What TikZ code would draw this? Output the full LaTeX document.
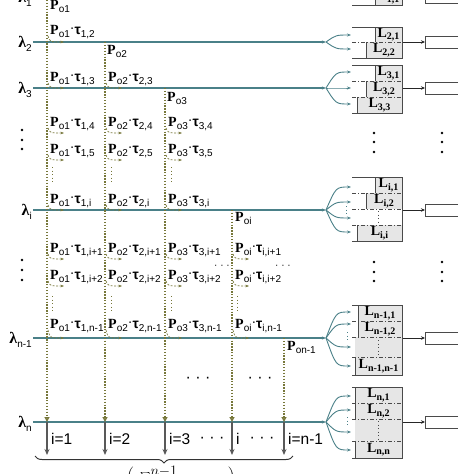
\documentclass[tikz,border=0pt]{standalone}
\usepackage{fontspec}
\setmainfont{Liberation Sans}
\newfontfamily\tnr{Liberation Serif}
\usetikzlibrary{arrows.meta,decorations.pathreplacing}
\definecolor{lamcol}{HTML}{4A8088}
\definecolor{dotcol}{HTML}{77773A}
\definecolor{boxfill}{HTML}{E6E6E6}
\definecolor{framecol}{HTML}{4A4A4A}
\newcommand{\sub}[1]{\raisebox{-0.4ex}{\fontsize{10}{10}\selectfont #1}}
\newcommand{\Pb}{{\tnr\bfseries P}}
\newcommand{\Lb}[1]{{\tnr\bfseries L\sub{#1}}}
\newcommand{\Pt}[2]{\Pb\sub{#1}\raisebox{0.3ex}{·}{\bfseries τ}\sub{#2}}

\begin{document}
\begin{tikzpicture}[x=1pt, y=-1pt,
    every node/.style={font=\fontsize{14}{16}\selectfont, inner sep=0pt},
    lam/.style={draw=lamcol, line width=1.2pt, -{Stealth[length=4pt,width=3pt]}},
    colline/.style={draw=dotcol, line width=1.3pt, dash pattern=on 1.3pt off 1.6pt, -{Triangle[open,length=5pt,width=5pt]}},
    tau/.style={draw=dotcol, dash pattern=on 2pt off 1.5pt, line width=0.7pt, -{Stealth[length=3.5pt]}},
    fan/.style={draw=lamcol, line width=0.9pt, -{Stealth[length=4pt,width=3pt]}},
    feed/.style={draw=black!85, line width=1pt, -{Stealth[length=4pt,width=3.5pt]}},
    drop/.style={draw=black!65, line width=1.7pt, -{Stealth[length=6pt,width=5pt]}},
    boxline/.style={draw=framecol, line width=1pt},
    rowsep/.style={draw=framecol, line width=0.7pt, dash pattern=on 4pt off 2pt on 1pt off 2pt},
    vdots/.style={draw=dotcol, line width=1pt, dash pattern=on 1pt off 2.5pt},
    plab/.style={anchor=west},
    lamlab/.style={anchor=east, font=\fontsize{16}{18}\selectfont},
    dotsmall/.style={font=\fontsize{10}{10}\selectfont},
    dotbig/.style={font=\fontsize{16}{16}\selectfont},
    ilab/.style={anchor=west, font=\fontsize{15.5}{17}\selectfont}
  ]
  \useasboundingbox (0,0) rectangle (474,474);
  \clip (0,0) rectangle (474,474);

  % Lambda lines and outputs
  \foreach \n/\y/\t in {1/-3/1, 2/42/2, 3/88/3, i/210/i, m/338/n-1, n/422/n} {
    \coordinate (w\n) at (33,\y);
    \coordinate (f\n) at (326,\y);
    \node[lamlab] (lab\n) at (32,\y+2) {{\tnr\bfseries λ}\sub{\t}};
    \draw[lam] (w\n) -- (f\n);
    \coordinate (bo\n) at (402,\y);
    \coordinate (ri\n) at (425,\y);
    \draw[feed] (bo\n) -- (ri\n);
    \draw[boxline] (458,\y-6) -- (425,\y-6) -- (425,\y+6) -- (458,\y+6);
  }

  % Fans into the boxes
  \foreach \n/\ends in {1/{-3}, 2/{35,49}, 3/{72,88,104}, i/{187,202,218,232}, m/{312,324,347,366}, n/{396,410,432,450}} {
    \foreach \e [count=\k] in \ends {
      \coordinate (fe\n\k) at (351,\e);
      \draw[fan] (f\n) .. controls (336,\e) .. (fe\n\k);
    }
  }
  \draw[vdots, draw=lamcol] (346,206) -- (346,214);
  \draw[vdots, draw=lamcol] (347,332) -- (347,340);
  \draw[vdots, draw=lamcol] (347,417) -- (347,426);

  % Boxes: cells
  \fill[boxfill] (355,337) rectangle (402,357);
  \fill[boxfill] (355,419) rectangle (402,441);
  \foreach \b/\t/\u/\lx/\lab in {
      1/-11/5/375/{1,1},
      2/27/42/375/{2,1}, 2/42/58/366/{2,2},
      3/65/81/375/{3,1}, 3/81/97/366/{3,2}, 3/97/113/357/{3,3},
      i/177/193/375/{i,1}, i/193/209/366/{i,2}, i/225/241/357/{i,i},
      m/305/321/358/{n-1,1}, m/321/337/358/{n-1,2}, m/357/375/355/{n-1,n-1},
      n/387/403/355/{n,1}, n/403/419/355/{n,2}, n/441/458/355/{n,n}} {
    \fill[boxfill] (\lx,\t) rectangle (402,\u);
    \draw[boxline, line width=0.8pt] (\lx,\t) -- (\lx,\u);
    \node (L\b\t) at ({(\lx+402)/2},{(\t+\u)/2}) {\Lb{\lab}};
  }
  \foreach \y in {42, 81, 97, 193, 209, 225, 321, 337, 357, 403, 419, 441}
    \draw[rowsep] (352,\y) -- (402,\y);
  \draw[vdots, draw=framecol] (378,211) -- (378,223);
  \draw[vdots, draw=framecol] (378,340) -- (378,355);
  \draw[vdots, draw=framecol] (378,421) -- (378,439);
  % Boxes: frames
  \foreach \n/\t/\u in {1/-11/5, 2/27/58, 3/65/113, i/177/241, m/305/375, n/387/458}
    \draw[boxline] (352,\t) -- (402,\t) -- (402,\u) -- (352,\u);

  % Columns
  \foreach \c/\x/\y in {1/47/-3, 2/105/42, 3/165/88, i/232/210, m/284/338} {
    \coordinate (ct\c) at (\x,\y);
    \coordinate (cb\c) at (\x,422);
    \coordinate (ce\c) at (\x,455);
    \draw[colline] (ct\c) -- (cb\c);
    \draw[drop] (cb\c) -- (ce\c);
  }
  \node[plab] (po1) at (50,6) {\Pb\sub{o1}};
  \node[plab] (po2) at (107,51) {\Pb\sub{o2}};
  \node[plab] (po3) at (167,98) {\Pb\sub{o3}};
  \node[plab] (poi) at (235,218) {\Pb\sub{oi}};
  \node[plab] (pom) at (287,347) {\Pb\sub{on-1}};

  % Shares P_o * tau with their arrows
  \foreach \id/\r/\ly/\ey/\k in {2/2/32/42/1, 3/3/79/88/2, 4/4/124/133/3, 5/5/151/160/3,
      6/i/201/210/3, 7/i+1/250/259/4, 8/i+2/277/286/4, 9/n-1/326/338/4}
    \foreach \c/\x/\s in {1/47/1, 2/105/2, 3/165/3, 4/232/i} {
      \ifnum\c>\k\relax\else
        \node[plab] (t\c-\id) at (\x+3,\ly) {\Pt{o\s}{\s,\r}};
        \coordinate (ts\c-\id) at (\x+1,\ly+4);
        \coordinate (te\c-\id) at (\x+17,\ey);
        \draw[tau] (ts\c-\id) .. controls (\x+3,\ey) .. (te\c-\id);
      \fi
    }
  \foreach \x in {52, 111, 171}
    \draw[vdots] (\x,167) -- (\x,183);
  \foreach \x in {52, 111, 171, 237}
    \draw[vdots] (\x,296) -- (\x,312);

  % Ellipses
  \node[dotsmall] (e1) at (222,267) {· · ·};
  \node[dotsmall] (e2) at (283,267) {· · ·};
  \node[dotbig] (e3) at (198,380) {· · ·};
  \node[dotbig] (e4) at (260,380) {· · ·};
  \node[dotbig] (e5) at (212,440) {· · ·};
  \node[dotbig] (e6) at (262,440) {· · ·};
  \foreach \x/\y in {22/130, 22/140, 22/149, 22/260, 22/270, 22/280,
      374/133, 374/142, 374/152, 442/133, 442/142, 442/152,
      374/262, 374/272, 374/281, 442/262, 442/272, 442/281}
    \fill (\x,\y) circle (1.4);

  % Bottom
  \foreach \c/\x/\t in {1/47/i=1, 2/105/i=2, 3/165/i=3, i/232/i, m/284/i=n-1}
    \node[ilab] (bl\c) at (\x+4,439) {\t};
  \draw[decorate, decoration={brace, mirror, amplitude=7pt}, line width=1pt, black!80]
    (35,456) -- (293,456);
  \node (sumf) at (181,477) {\fontsize{20}{24}\selectfont$\Bigl(\;\sum\nolimits^{n-1}\hspace{50pt}\Bigr)$};
\end{tikzpicture}
\end{document}
